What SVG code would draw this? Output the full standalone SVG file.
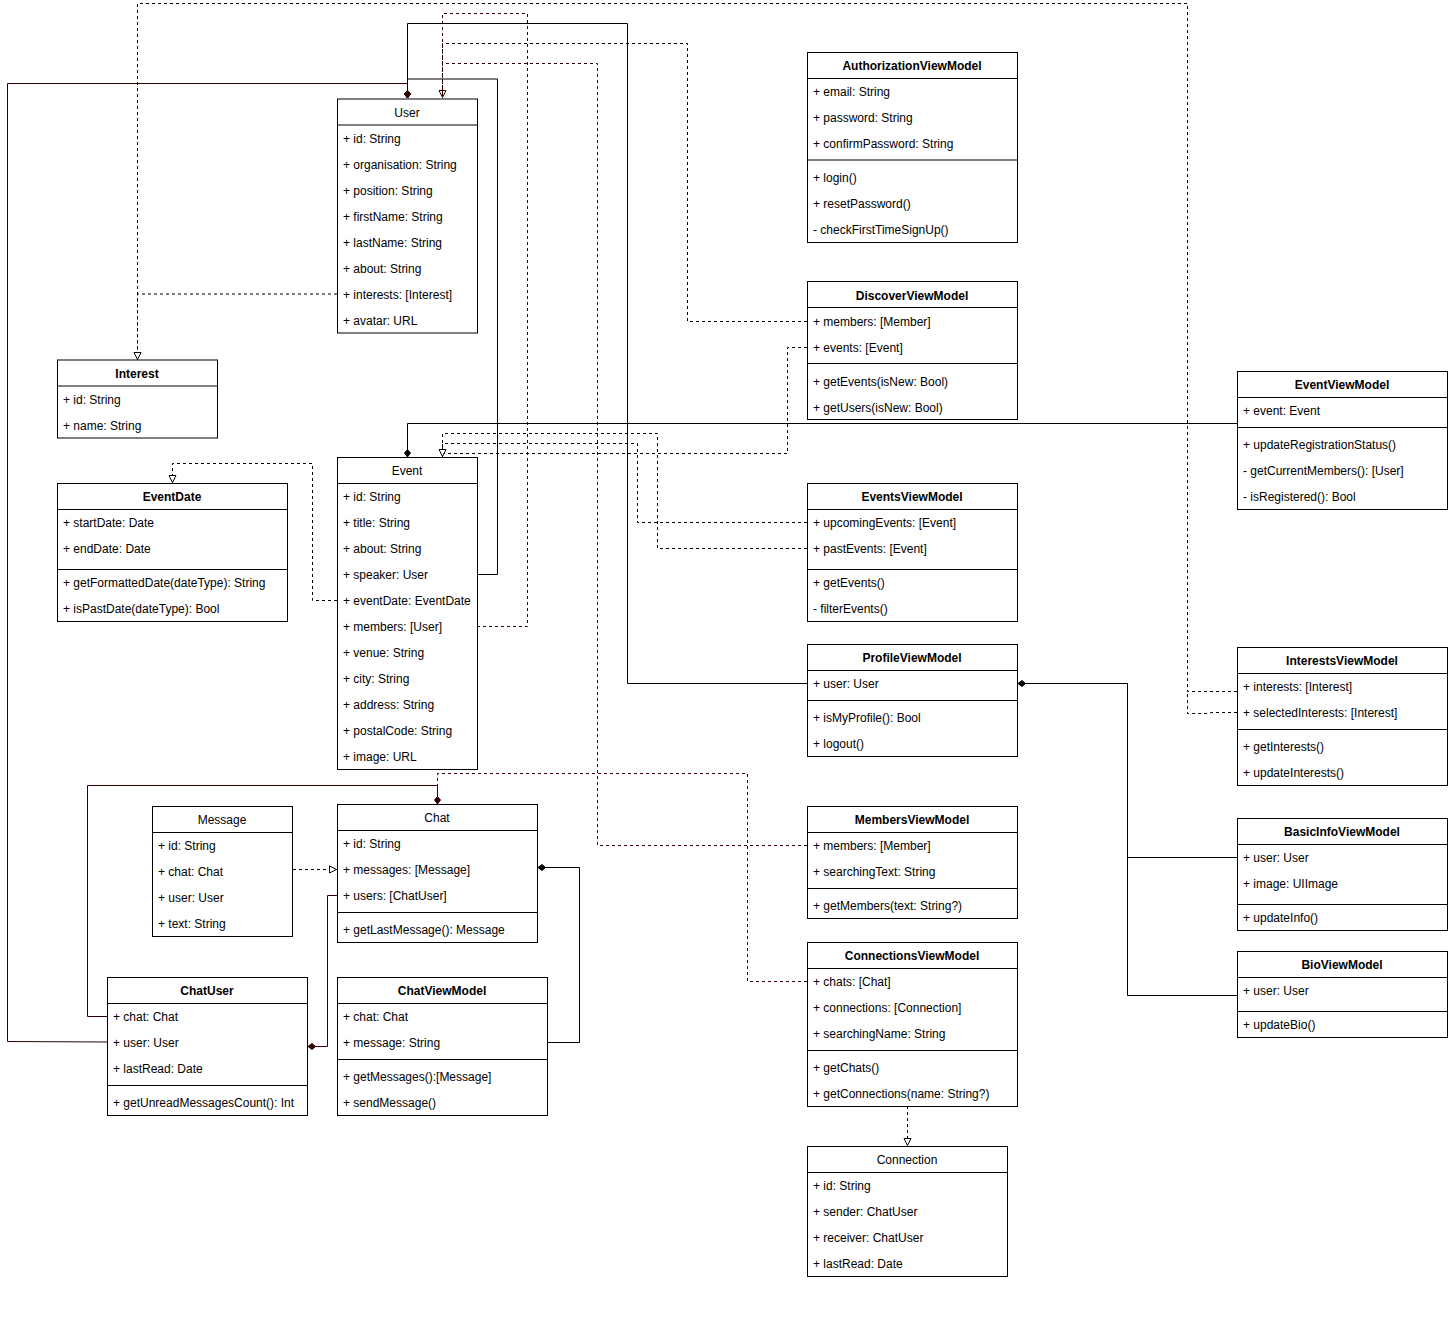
<svg xmlns="http://www.w3.org/2000/svg" width="1448" height="1332" viewBox="0 0 1448 1332">
<style>
text{font-family:"Liberation Sans",Arial,sans-serif;font-size:12px;fill:#000}
.t{text-anchor:middle}
.b{font-weight:bold}
.box{fill:#fff;stroke:#000;stroke-width:1}
.d{fill:none;stroke:#000;stroke-width:1}
.c{fill:none;stroke:#000;stroke-width:1}
.r{stroke:#330000}
.da{stroke-dasharray:3 3}
.tri{marker-end:url(#tri)}
.trir{marker-end:url(#trir)}
.dia{marker-end:url(#dia)}
.diar{marker-end:url(#diar)}
</style>
<defs>
<marker id="tri" markerUnits="userSpaceOnUse" markerWidth="12" markerHeight="12" refX="11" refY="6" orient="auto"><path d="M3.5 2.5L10.5 6L3.5 9.5Z" fill="#fff" stroke="#000"/></marker>
<marker id="trir" markerUnits="userSpaceOnUse" markerWidth="12" markerHeight="12" refX="11" refY="6" orient="auto"><path d="M3.5 2.5L10.5 6L3.5 9.5Z" fill="#fff" stroke="#330000"/></marker>
<marker id="dia" markerUnits="userSpaceOnUse" markerWidth="12" markerHeight="12" refX="10" refY="6" orient="auto"><path d="M2.5 6L6 3L10 6L6 9Z" fill="#000" stroke="#000"/></marker>
<marker id="diar" markerUnits="userSpaceOnUse" markerWidth="12" markerHeight="12" refX="10" refY="6" orient="auto"><path d="M2.5 6L6 3L10 6L6 9Z" fill="#330000" stroke="#330000"/></marker>
</defs>
<g id="connectors">
<path class="c r diar" d="M107 1042L7.5 1041.5V83.5H407.5V98"/>
<path class="c dia" d="M807 683.5H627.5V23.5H407.5V98"/>
<path class="c diar" d="M477 574.5H497.5V79H407.5V98"/>
<path class="c da" d="M337 294H137.5V360"/>
<path class="c da tri" d="M1237 691.5H1187.5V3.5H137.5V360"/>
<path class="c da" d="M1237 712.5H1212L1207 713.5H1187.5V691.5"/>
<path class="c da r trir" d="M477 626.5H527.5V13.5H442.5V98"/>
<path class="c da" d="M807 321.5H687.5V43.5H442.5V98"/>
<path class="c da r" d="M807 845.5H597.5V63.5H442.5V98"/>
<path class="c dia" d="M1237 423.5H407.5V457"/>
<path class="c da" d="M807 522.5H637.5V443.5H442.5V457"/>
<path class="c da" d="M807 548.5H657.5V433.5H442.5V457"/>
<path class="c da tri" d="M807 347.5H787.5V453.5H442.5V457"/>
<path class="c da tri" d="M337 600.5H312.5V463.5H172.5V483"/>
<path class="c da tri" d="M293 869.5H337"/>
<path class="c r diar" d="M337 895.5H327.5V1046.5H308"/>
<path class="c r diar" d="M107 1016.5H87.5V785.5H437.5V804"/>
<path class="c da r" d="M807 981.5H747.5V773.5H437.5V790"/>
<path class="c dia" d="M547 1042.5H579.5V867.5H538"/>
<path class="c dia" d="M1237 995.5H1127.5V683.5H1018"/>
<path class="c" d="M1237 857.5H1127.5"/>
<path class="c da tri" d="M907.5 1106V1146"/>
</g>
<g id="User"><rect class="box" x="337.5" y="99" width="140" height="234"/><path class="d" d="M337.5 125H477.5"/><text class="t" x="407" y="117">User</text><text x="343" y="143">+ id: String</text><text x="343" y="169">+ organisation: String</text><text x="343" y="195">+ position: String</text><text x="343" y="221">+ firstName: String</text><text x="343" y="247">+ lastName: String</text><text x="343" y="273">+ about: String</text><text x="343" y="299">+ interests: [Interest]</text><text x="343" y="325">+ avatar: URL</text></g>
<g id="Interest"><rect class="box" x="57.5" y="360" width="160" height="78"/><path class="d" d="M57.5 386H217.5"/><text class="t b" x="137" y="378">Interest</text><text x="63" y="404">+ id: String</text><text x="63" y="430">+ name: String</text></g>
<g id="Event"><rect class="box" x="337.5" y="457.5" width="140" height="312"/><path class="d" d="M337.5 483.5H477.5"/><text class="t" x="407" y="475">Event</text><text x="343" y="501">+ id: String</text><text x="343" y="527">+ title: String</text><text x="343" y="553">+ about: String</text><text x="343" y="579">+ speaker: User</text><text x="343" y="605">+ eventDate: EventDate</text><text x="343" y="631">+ members: [User]</text><text x="343" y="657">+ venue: String</text><text x="343" y="683">+ city: String</text><text x="343" y="709">+ address: String</text><text x="343" y="735">+ postalCode: String</text><text x="343" y="761">+ image: URL</text></g>
<g id="EventDate"><rect class="box" x="57.5" y="483.5" width="230" height="138"/><path class="d" d="M57.5 509.5H287.5M57.5 569.5H287.5"/><text class="t b" x="172" y="501">EventDate</text><text x="63" y="527">+ startDate: Date</text><text x="63" y="553">+ endDate: Date</text><text x="63" y="587">+ getFormattedDate(dateType): String</text><text x="63" y="613">+ isPastDate(dateType): Bool</text></g>
<g id="AuthorizationViewModel"><rect class="box" x="807.5" y="52.5" width="210" height="190"/><path class="d" d="M807.5 78.5H1017.5M807.5 160H1017.5"/><text class="t b" x="912" y="70">AuthorizationViewModel</text><text x="813" y="96">+ email: String</text><text x="813" y="122">+ password: String</text><text x="813" y="148">+ confirmPassword: String</text><text x="813" y="182">+ login()</text><text x="813" y="208">+ resetPassword()</text><text x="813" y="234">- checkFirstTimeSignUp()</text></g>
<g id="DiscoverViewModel"><rect class="box" x="807.5" y="281.5" width="210" height="138"/><path class="d" d="M807.5 307.5H1017.5M807.5 363.5H1017.5"/><text class="t b" x="912" y="300">DiscoverViewModel</text><text x="813" y="326">+ members: [Member]</text><text x="813" y="352">+ events: [Event]</text><text x="813" y="386">+ getEvents(isNew: Bool)</text><text x="813" y="412">+ getUsers(isNew: Bool)</text></g>
<g id="EventViewModel"><rect class="box" x="1237.5" y="371.5" width="210" height="138"/><path class="d" d="M1237.5 397.5H1447.5M1237.5 427.5H1447.5"/><text class="t b" x="1342" y="389">EventViewModel</text><text x="1243" y="415">+ event: Event</text><text x="1243" y="449">+ updateRegistrationStatus()</text><text x="1243" y="475">- getCurrentMembers(): [User]</text><text x="1243" y="501">- isRegistered(): Bool</text></g>
<g id="EventsViewModel"><rect class="box" x="807.5" y="483.5" width="210" height="138"/><path class="d" d="M807.5 509.5H1017.5M807.5 569.5H1017.5"/><text class="t b" x="912" y="501">EventsViewModel</text><text x="813" y="527">+ upcomingEvents: [Event]</text><text x="813" y="553">+ pastEvents: [Event]</text><text x="813" y="587">+ getEvents()</text><text x="813" y="613">- filterEvents()</text></g>
<g id="ProfileViewModel"><rect class="box" x="807.5" y="644.5" width="210" height="112"/><path class="d" d="M807.5 670.5H1017.5M807.5 700.5H1017.5"/><text class="t b" x="912" y="662">ProfileViewModel</text><text x="813" y="688">+ user: User</text><text x="813" y="722">+ isMyProfile(): Bool</text><text x="813" y="748">+ logout()</text></g>
<g id="InterestsViewModel"><rect class="box" x="1237.5" y="647.5" width="210" height="138"/><path class="d" d="M1237.5 673.5H1447.5M1237.5 729.5H1447.5"/><text class="t b" x="1342" y="665">InterestsViewModel</text><text x="1243" y="691">+ interests: [Interest]</text><text x="1243" y="717">+ selectedInterests: [Interest]</text><text x="1243" y="751">+ getInterests()</text><text x="1243" y="777">+ updateInterests()</text></g>
<g id="BasicInfoViewModel"><rect class="box" x="1237.5" y="818.5" width="210" height="112"/><path class="d" d="M1237.5 844.5H1447.5M1237.5 904.5H1447.5"/><text class="t b" x="1342" y="836">BasicInfoViewModel</text><text x="1243" y="862">+ user: User</text><text x="1243" y="888">+ image: UIImage</text><text x="1243" y="922">+ updateInfo()</text></g>
<g id="BioViewModel"><rect class="box" x="1237.5" y="951.5" width="210" height="86"/><path class="d" d="M1237.5 977.5H1447.5M1237.5 1011.5H1447.5"/><text class="t b" x="1342" y="969">BioViewModel</text><text x="1243" y="995">+ user: User</text><text x="1243" y="1029">+ updateBio()</text></g>
<g id="MembersViewModel"><rect class="box" x="807.5" y="806.5" width="210" height="112"/><path class="d" d="M807.5 832.5H1017.5M807.5 888.5H1017.5"/><text class="t b" x="912" y="824">MembersViewModel</text><text x="813" y="850">+ members: [Member]</text><text x="813" y="876">+ searchingText: String</text><text x="813" y="910">+ getMembers(text: String?)</text></g>
<g id="ConnectionsViewModel"><rect class="box" x="807.5" y="942.5" width="210" height="164"/><path class="d" d="M807.5 968.5H1017.5M807.5 1050.5H1017.5"/><text class="t b" x="912" y="960">ConnectionsViewModel</text><text x="813" y="986">+ chats: [Chat]</text><text x="813" y="1012">+ connections: [Connection]</text><text x="813" y="1038">+ searchingName: String</text><text x="813" y="1072">+ getChats()</text><text x="813" y="1098">+ getConnections(name: String?)</text></g>
<g id="Connection"><rect class="box" x="807.5" y="1146.5" width="200" height="130"/><path class="d" d="M807.5 1172.5H1007.5"/><text class="t" x="907" y="1164">Connection</text><text x="813" y="1190">+ id: String</text><text x="813" y="1216">+ sender: ChatUser</text><text x="813" y="1242">+ receiver: ChatUser</text><text x="813" y="1268">+ lastRead: Date</text></g>
<g id="Message"><rect class="box" x="152.5" y="806.5" width="140" height="130"/><path class="d" d="M152.5 832.5H292.5"/><text class="t" x="222" y="824">Message</text><text x="158" y="850">+ id: String</text><text x="158" y="876">+ chat: Chat</text><text x="158" y="902">+ user: User</text><text x="158" y="928">+ text: String</text></g>
<g id="Chat"><rect class="box" x="337.5" y="804.5" width="200" height="138"/><path class="d" d="M337.5 830.5H537.5M337.5 912.5H537.5"/><text class="t" x="437" y="822">Chat</text><text x="343" y="848">+ id: String</text><text x="343" y="874">+ messages: [Message]</text><text x="343" y="900">+ users: [ChatUser]</text><text x="343" y="934">+ getLastMessage(): Message</text></g>
<g id="ChatUser"><rect class="box" x="107.5" y="977.5" width="200" height="138"/><path class="d" d="M107.5 1003.5H307.5M107.5 1085.5H307.5"/><text class="t b" x="207" y="995">ChatUser</text><text x="113" y="1021">+ chat: Chat</text><text x="113" y="1047">+ user: User</text><text x="113" y="1073">+ lastRead: Date</text><text x="113" y="1107">+ getUnreadMessagesCount(): Int</text></g>
<g id="ChatViewModel"><rect class="box" x="337.5" y="977.5" width="210" height="138"/><path class="d" d="M337.5 1003.5H547.5M337.5 1059.5H547.5"/><text class="t b" x="442" y="995">ChatViewModel</text><text x="343" y="1021">+ chat: Chat</text><text x="343" y="1047">+ message: String</text><text x="343" y="1081">+ getMessages():[Message]</text><text x="343" y="1107">+ sendMessage()</text></g>
</svg>
